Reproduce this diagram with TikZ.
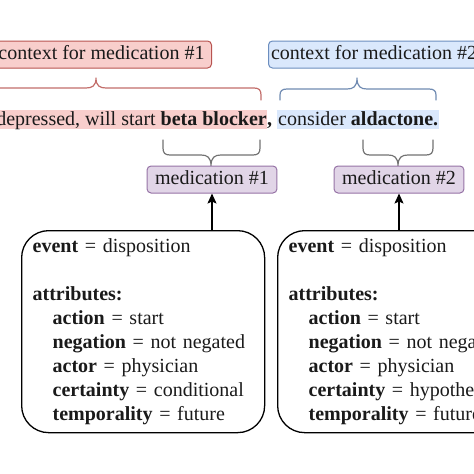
\documentclass[tikz,border=0pt]{standalone}
\usepackage{fontspec}
\setmainfont{Liberation Serif}
\usetikzlibrary{arrows.meta}
\definecolor{pinkfill}{HTML}{F8CECC}
\definecolor{pinkdraw}{HTML}{B85450}
\definecolor{bluefill}{HTML}{DAE8FC}
\definecolor{bluedraw}{HTML}{6C8EBF}
\definecolor{purpfill}{HTML}{E1D5E7}
\definecolor{purpdraw}{HTML}{9673A6}
\definecolor{txt}{HTML}{1A1A1A}
\tikzset{
  big/.style={font=\fontsize{20}{24}\selectfont, text=txt},
  ctxbox/.style={big, rounded corners=4pt, line width=1pt, minimum height=27pt, inner ysep=0pt, text height=15pt, text depth=5pt},
  hl/.style={big, inner xsep=0pt, inner ysep=0pt, text height=15pt, text depth=4pt},
  medbox/.style={big, rounded corners=4pt, line width=1pt, fill=purpfill, draw=purpdraw, minimum height=27pt, inner xsep=8pt, inner ysep=0pt, text height=15pt, text depth=5pt},
  evbox/.style={big, draw=black, line width=1.3pt, rounded corners=27pt, minimum width=243pt, minimum height=202pt, text width=221pt, inner xsep=11pt, align=left, anchor=north west},
  bracel/.style={line width=1.2pt, line cap=round, line join=round},
  arr/.style={line width=1.4pt, -{Stealth[length=10pt,width=9pt,inset=2pt]}},
}
\begin{document}
\begin{tikzpicture}[x=1pt,y=-1pt]
\useasboundingbox (0,0) rectangle (474,474);
\clip (0,0) rectangle (474,474);
\fill[white] (0,0) rectangle (474,474);

% context boxes
\node[ctxbox, fill=pinkfill, draw=pinkdraw, anchor=east, inner xsep=7pt] (ctx1) at (212,54.5) {context for medication \#1};
\node[ctxbox, fill=bluefill, draw=bluedraw, anchor=west, inner xsep=2.5pt] (ctx2) at (268,54.5) {context for medication \#2};

% sentence
\node[hl, fill=pinkfill, anchor=base east] (s1) at (267,125) {depressed, will start \textbf{beta blocker}};
\node[hl, anchor=base west] (comma) at (s1.base east) {\textbf{,}};
\node[hl, fill=bluefill, anchor=base west, inner xsep=1pt] (s2) at (277,125) {consider \textbf{aldactone.}};

% upper braces (pointing up)
\draw[bracel, pinkdraw!85!white]
  (-69,100) -- (-69,95) .. controls (-69,90) and (-67,88) .. (-62,88)
  -- (86,88) .. controls (92,88) and (96,86) .. (96,78)
  .. controls (96,86) and (100,88) .. (106,88)
  -- (254,88) .. controls (259,88) and (261,90) .. (261,95) -- (261,100);
\draw[bracel, bluedraw!80!gray]
  (280,100) -- (280,95) .. controls (280,91) and (282,89) .. (287,89)
  -- (347,89) .. controls (353,89) and (357,87) .. (357,78)
  .. controls (357,87) and (361,89) .. (367,89)
  -- (429,89) .. controls (434,89) and (436,91) .. (436,95) -- (436,100);

% lower braces (pointing down)
\draw[bracel, gray!90!black]
  (163,140) -- (163,148) .. controls (163,153) and (165,155) .. (170,155)
  -- (201,155) .. controls (207,155) and (211,157) .. (211,166)
  .. controls (211,157) and (215,155) .. (221,155)
  -- (253,155) .. controls (258,155) and (260,153) .. (260,148) -- (260,140);
\draw[bracel, gray!90!black]
  (363,140) -- (363,148) .. controls (363,153) and (365,155) .. (370,155)
  -- (388,155) .. controls (394,155) and (398,157) .. (398,166)
  .. controls (398,157) and (402,155) .. (408,155)
  -- (426,155) .. controls (431,155) and (433,153) .. (433,148) -- (433,140);

% medication boxes
\node[medbox] (med1) at (212,179.5) {medication \#1};
\node[medbox] (med2) at (399,179.5) {medication \#2};

% event boxes
\node[evbox] (ev1) at (21,230) {\textbf{event} = disposition\\[24pt]
\textbf{attributes:}\\
\hspace*{20pt}\textbf{action} = start\\
\hspace*{20pt}\textbf{negation} = not negated\\
\hspace*{20pt}\textbf{actor} = physician\\
\hspace*{20pt}\textbf{certainty} = conditional\\
\hspace*{20pt}\textbf{temporality} = future};
\node[evbox] (ev2) at (277,230) {\textbf{event} = disposition\\[24pt]
\textbf{attributes:}\\
\hspace*{20pt}\textbf{action} = start\\
\hspace*{20pt}\textbf{negation} = not negated\\
\hspace*{20pt}\textbf{actor} = physician\\
\hspace*{20pt}\textbf{certainty} = hypothetical\\
\hspace*{20pt}\textbf{temporality} = future};

% arrows
\draw[arr] (med1.south |- ev1.north) -- (med1.south);
\draw[arr] (med2.south |- ev2.north) -- (med2.south);
\end{tikzpicture}
\end{document}
